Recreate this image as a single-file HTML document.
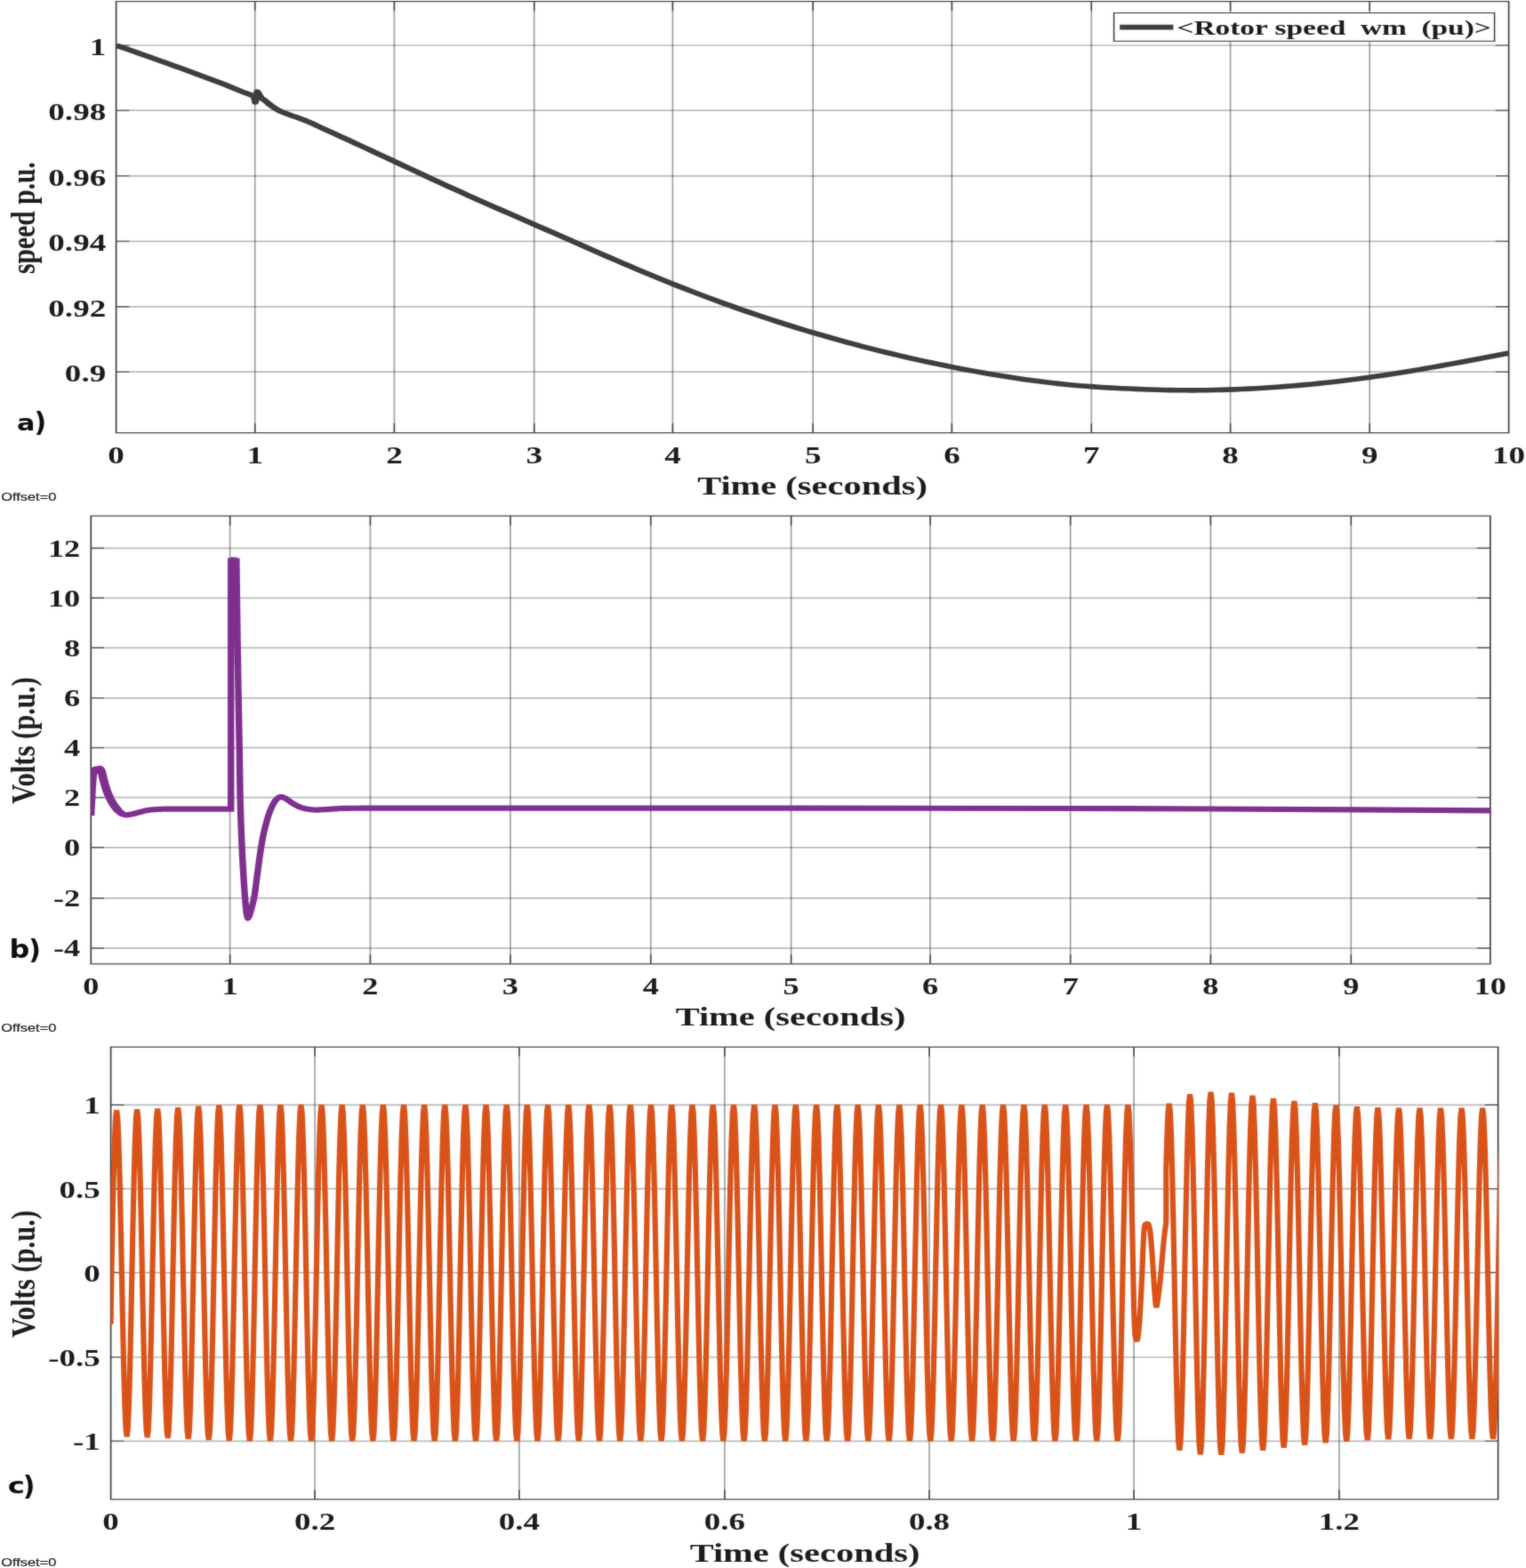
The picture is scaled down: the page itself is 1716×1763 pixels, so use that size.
<!DOCTYPE html>
<html lang="en"><head><meta charset="utf-8"><title>Rotor speed and voltage plots</title>
<style>html,body{margin:0;padding:0;background:#fff}body{width:1716px;height:1763px;overflow:hidden}svg{display:block}</style>
</head><body>
<svg width="1716" height="1763" viewBox="0 0 1716 1763" role="img" aria-label="Rotor speed and voltage versus time">
<defs><filter id="soft" x="0" y="0" width="1716" height="1763" filterUnits="userSpaceOnUse" color-interpolation-filters="sRGB"><feGaussianBlur stdDeviation="0.8" result="b"/><feComposite in="SourceGraphic" in2="b" operator="arithmetic" k1="0" k2="0.6" k3="0.4" k4="0"/></filter></defs>
<rect width="1716" height="1763" fill="#fff"/>
<g filter="url(#soft)">
<rect width="1716" height="1763" fill="#fff"/>
<g transform="scale(1.4 1)">
<path d="M204.79 1.6V486.65M316.71 1.6V486.65M429.07 1.6V486.65M540.29 1.6V486.65M653 1.6V486.65M764.57 1.6V486.65M876.64 1.6V486.65M988.29 1.6V486.65M1100.14 1.6V486.65" stroke="#000" stroke-opacity="0.38" stroke-width="1.2" fill="none"/>
<path d="M93.29 51H1211.86M93.29 124.2H1211.86M93.29 197.8H1211.86M93.29 271.3H1211.86M93.29 344.9H1211.86M93.29 418.2H1211.86" stroke="#000" stroke-opacity="0.27" stroke-width="1.7" fill="none"/>
<path d="M204.79 486.65v-10.6 M204.79 1.6v10.6M316.71 486.65v-10.6 M316.71 1.6v10.6M429.07 486.65v-10.6 M429.07 1.6v10.6M540.29 486.65v-10.6 M540.29 1.6v10.6M653 486.65v-10.6 M653 1.6v10.6M764.57 486.65v-10.6 M764.57 1.6v10.6M876.64 486.65v-10.6 M876.64 1.6v10.6M988.29 486.65v-10.6 M988.29 1.6v10.6M1100.14 486.65v-10.6 M1100.14 1.6v10.6M93.29 51h10.6 M1211.86 51h-10.6M93.29 124.2h10.6 M1211.86 124.2h-10.6M93.29 197.8h10.6 M1211.86 197.8h-10.6M93.29 271.3h10.6 M1211.86 271.3h-10.6M93.29 344.9h10.6 M1211.86 344.9h-10.6M93.29 418.2h10.6 M1211.86 418.2h-10.6" stroke="#484848" stroke-width="1.1" fill="none"/>
<rect x="93.29" y="1.6" width="1118.57" height="485.05" fill="none" stroke="#3c3c3c" stroke-width="1.2"/>
<clipPath id="ca"><rect x="93.14" y="1.6" width="1119.12" height="485.05"/></clipPath>
<path d="M93.29 51L99.03 53.77L104.78 56.56L110.53 59.37L116.28 62.2L122.03 65.05L127.77 67.91L133.52 70.79L139.27 73.69L145.02 76.6L150.77 79.52L156.52 82.45L162.26 85.41L168.01 88.4L173.76 91.43L179.51 94.51L185.26 97.76L191 101.12L196.75 104.36L202.5 107.3L203.79 108.2L204.64 111.5L205.07 114.9L205.86 107.5L206.64 103.2L207.43 104.3L208.57 107.6L210 110.5L211.43 111.61L212.86 113.1L214.29 114.77L215.71 116.47L217.14 118L218.57 119.41L220 120.82L221.43 122.17L222.86 123.39L224.29 124.45L225.71 125.36L227.14 126.18L228.57 126.95L230 127.68L231.43 128.42L232.86 129.18L234.29 129.92L235.71 130.64L237.14 131.35L238.57 132.06L240 132.77L241.43 133.49L242.86 134.22L244.29 134.99L245.71 135.78L247.14 136.61L248.57 137.46L250 138.33L251.43 139.23L252.86 140.14L254.29 141.08L255.71 142.03L257.14 143L262.79 146.59L268.44 150.19L274.09 153.81L279.74 157.44L285.39 161.09L291.04 164.74L296.69 168.41L302.34 172.08L307.99 175.76L313.64 179.45L319.29 183.13L324.94 186.82L330.59 190.51L336.24 194.19L341.89 197.87L347.54 201.53L353.19 205.17L358.84 208.8L364.49 212.4L370.14 215.98L375.78 219.54L381.43 223.06L387.08 226.57L392.73 230.05L398.38 233.53L404.03 236.99L409.68 240.44L415.33 243.89L420.98 247.35L426.63 250.8L432.28 254.27L437.93 257.75L443.58 261.23L449.23 264.72L454.88 268.2L460.53 271.69L466.18 275.17L471.83 278.64L477.48 282.11L483.13 285.56L488.78 289L494.43 292.42L500.08 295.82L505.73 299.2L511.38 302.55L517.03 305.87L522.67 309.16L528.32 312.42L533.97 315.65L539.62 318.83L545.27 321.97L550.92 325.07L556.57 328.13L562.22 331.15L567.87 334.13L573.52 337.06L579.17 339.95L584.82 342.81L590.47 345.62L596.12 348.39L601.77 351.12L607.42 353.8L613.07 356.45L618.72 359.06L624.37 361.62L630.02 364.15L635.67 366.64L641.32 369.08L646.97 371.49L652.62 373.85L658.27 376.18L663.92 378.46L669.57 380.71L675.21 382.91L680.86 385.08L686.51 387.21L692.16 389.3L697.81 391.34L703.46 393.35L709.11 395.32L714.76 397.25L720.41 399.15L726.06 401L731.71 402.81L737.36 404.59L743.01 406.33L748.66 408.02L754.31 409.68L759.96 411.3L765.61 412.89L771.26 414.43L776.91 415.94L782.56 417.4L788.21 418.82L793.86 420.2L799.51 421.54L805.16 422.83L810.81 424.07L816.46 425.26L822.1 426.41L827.75 427.5L833.4 428.55L839.05 429.54L844.7 430.47L850.35 431.36L856 432.18L861.65 432.95L867.3 433.66L872.95 434.31L878.6 434.9L884.25 435.43L889.9 435.9L895.55 436.33L901.2 436.72L906.85 437.07L912.5 437.4L918.15 437.71L923.8 437.99L929.45 438.24L935.1 438.45L940.75 438.62L946.4 438.75L952.05 438.82L957.7 438.83L963.35 438.79L968.99 438.69L974.64 438.55L980.29 438.35L985.94 438.11L991.59 437.83L997.24 437.5L1002.89 437.13L1008.54 436.72L1014.19 436.27L1019.84 435.77L1025.49 435.23L1031.14 434.65L1036.79 434.03L1042.44 433.36L1048.09 432.65L1053.74 431.91L1059.39 431.12L1065.04 430.29L1070.69 429.41L1076.34 428.5L1081.99 427.55L1087.64 426.55L1093.29 425.51L1098.94 424.44L1104.59 423.32L1110.24 422.16L1115.89 420.97L1121.53 419.74L1127.18 418.48L1132.83 417.18L1138.48 415.86L1144.13 414.51L1149.78 413.14L1155.43 411.75L1161.08 410.33L1166.73 408.89L1172.38 407.44L1178.03 405.98L1183.68 404.5L1189.33 403.01L1194.98 401.52L1200.63 400.01L1206.28 398.51L1211.93 397" fill="none" stroke="#3d3d3d" stroke-width="5.6" stroke-linejoin="round" clip-path="url(#ca)"/>
<rect x="894.71" y="14.5" width="305.71" height="31.8" fill="#fff" stroke="#3c3c3c" stroke-width="1.1"/>
<path d="M899.43 30.6H942.43" stroke="#3d3d3d" stroke-width="5.8"/>
<path d="M184.71 580.1V1083.8M297.43 580.1V1083.8M409.93 580.1V1083.8M522.71 580.1V1083.8M635.46 580.1V1083.8M747.14 580.1V1083.8M859.79 580.1V1083.8M972.43 580.1V1083.8M1085.21 580.1V1083.8" stroke="#000" stroke-opacity="0.38" stroke-width="1.2" fill="none"/>
<path d="M73.07 616.4H1197M73.07 672.4H1197M73.07 728.4H1197M73.07 784.8H1197M73.07 840.7H1197M73.07 896.7H1197M73.07 952.9H1197M73.07 1009.9H1197M73.07 1066.1H1197" stroke="#000" stroke-opacity="0.27" stroke-width="1.7" fill="none"/>
<path d="M184.71 1083.8v-10.6 M184.71 580.1v10.6M297.43 1083.8v-10.6 M297.43 580.1v10.6M409.93 1083.8v-10.6 M409.93 580.1v10.6M522.71 1083.8v-10.6 M522.71 580.1v10.6M635.46 1083.8v-10.6 M635.46 580.1v10.6M747.14 1083.8v-10.6 M747.14 580.1v10.6M859.79 1083.8v-10.6 M859.79 580.1v10.6M972.43 1083.8v-10.6 M972.43 580.1v10.6M1085.21 1083.8v-10.6 M1085.21 580.1v10.6M73.07 616.4h10.6 M1197 616.4h-10.6M73.07 672.4h10.6 M1197 672.4h-10.6M73.07 728.4h10.6 M1197 728.4h-10.6M73.07 784.8h10.6 M1197 784.8h-10.6M73.07 840.7h10.6 M1197 840.7h-10.6M73.07 896.7h10.6 M1197 896.7h-10.6M73.07 952.9h10.6 M1197 952.9h-10.6M73.07 1009.9h10.6 M1197 1009.9h-10.6M73.07 1066.1h10.6 M1197 1066.1h-10.6" stroke="#484848" stroke-width="1.1" fill="none"/>
<rect x="73.07" y="580.1" width="1123.93" height="503.7" fill="none" stroke="#3c3c3c" stroke-width="1.2"/>
<clipPath id="cb"><rect x="72.92" y="580.1" width="1124.48" height="503.7"/></clipPath>
</g><g transform="scale(1.19 1)">
<clipPath id="cb2"><rect x="85.8" y="580.1" width="1322.94" height="503.7"/></clipPath>
<g clip-path="url(#cb2)" fill="none" stroke="#7e2f8e">
<path d="M86.22 917L86.8 903.85L87.38 890.69L87.96 879.6L88.55 871.65L89.13 867.53L89.71 865.06L90.29 864.7L90.87 864.62L91.46 864.68L92.04 865.46L92.62 866L93.2 865.68L93.78 865.11L94.36 864.8L94.95 865.29L95.53 866.49L96.11 868.03L96.69 870.65L97.27 873.9L97.86 876.74L98.44 879.24L99.02 881.67L99.6 884.01L100.18 886.25L100.77 888.37L101.35 890.34L101.93 892.14L102.51 893.82L103.09 895.41L103.67 896.91L104.26 898.33L104.84 899.67L105.42 900.94L106 902.14L106.58 903.27L107.17 904.35L107.75 905.37L108.33 906.35L108.91 907.27L109.49 908.15L110.08 908.99L110.66 909.81L111.24 910.63L111.82 911.42L112.4 912.16L112.98 912.84L113.57 913.43L114.15 913.92L114.73 914.37L115.31 914.81L115.89 915.22L116.48 915.6L117.06 915.91L117.64 916.14L118.22 916.28L118.8 916.3L119.39 916.28L119.97 916.23L120.55 916.17L121.13 916.09L121.71 916L122.3 915.89L122.88 915.79L123.46 915.67L124.04 915.56L124.62 915.45L125.2 915.32L125.79 915.18L126.37 915.01L126.95 914.84L127.53 914.65L128.11 914.46L128.7 914.25L129.28 914.05L129.86 913.84L130.44 913.64L131.02 913.43L131.61 913.24L132.19 913.05L132.77 912.88L133.35 912.7L133.93 912.52L134.51 912.34L135.1 912.15L135.68 911.97L136.26 911.79L136.84 911.62L137.42 911.46L138.01 911.31L138.59 911.18L139.17 911.06L139.75 910.96L140.33 910.86L140.92 910.77L141.5 910.69L142.08 910.61L142.66 910.53L143.24 910.46L143.82 910.4L144.41 910.34L144.99 910.28L145.57 910.23L146.15 910.19L146.73 910.14L147.32 910.1L147.9 910.06L148.48 910.02L149.06 909.98L149.64 909.94L150.23 909.9L150.81 909.87L151.39 909.84L151.97 909.81L152.55 909.78L153.13 909.76L153.72 909.74L154.3 909.72L154.88 909.71L155.46 909.7L172.27 909.6L218.24 909.6L218.24 630.6L219.83 630.6L220.08 629.5L221.34 629.5L221.6 630.6L223.45 630.6L223.53 638.69L223.61 646.7L223.69 654.64L223.77 662.49L223.86 670.26L223.94 677.95L224.03 685.56L224.12 693.08L224.21 700.51L224.3 707.74L224.38 714.75L224.47 721.61L224.56 728.4L224.65 735.2L224.75 742.09L224.85 749.15L224.95 756.45L225.06 764.08L225.18 772.2L225.31 780.78L225.44 789.68L225.58 798.75L225.73 807.84L225.87 816.81L226 825.52L226.13 833.81L226.24 841.56L226.34 848.92L226.43 856.05L226.52 862.96L226.6 869.69L226.69 876.28L226.77 882.74L226.87 889.12L226.97 895.44L227.09 901.73L227.23 908L227.39 914.22L227.56 920.36L227.74 926.42L227.93 932.37L228.12 938.18L228.32 943.83L228.52 949.31L228.73 954.62L228.94 959.96L229.18 965.32L229.42 970.62L229.66 975.76L229.91 980.68L230.14 985.26L230.36 989.44L230.57 993.11L230.74 996.24L230.91 999.06L231.06 1001.68L231.2 1004.1L231.34 1006.36L231.47 1008.46L231.6 1010.44L231.73 1012.31L231.86 1014.1L232 1015.83L232.13 1017.54L232.27 1019.21L232.4 1020.82L232.53 1022.34L232.66 1023.76L232.79 1025.05L232.92 1026.18L233.05 1027.14L233.18 1027.92L233.31 1028.69L233.44 1029.43L233.57 1030.12L233.7 1030.76L233.83 1031.3L233.96 1031.73L234.1 1032.04L234.23 1032.19L234.37 1032.18L234.51 1032.07L234.66 1031.88L234.8 1031.61L234.95 1031.28L235.1 1030.91L235.25 1030.5L235.41 1030.07L235.58 1029.64L235.75 1029.18L235.92 1028.63L236.1 1028L236.28 1027.28L236.47 1026.5L236.67 1025.64L236.88 1024.73L237.1 1023.77L237.34 1022.75L237.59 1021.67L237.87 1020.47L238.17 1019.15L238.49 1017.71L238.83 1016.16L239.17 1014.49L239.52 1012.72L239.86 1010.84L240.2 1008.85L240.52 1006.68L240.85 1004.18L241.18 1001.41L241.52 998.42L241.85 995.28L242.19 992.04L242.53 988.76L242.88 985.51L243.24 982.32L243.61 979.1L244 975.68L244.4 972.12L244.81 968.52L245.22 964.97L245.62 961.54L246.01 958.33L246.37 955.41L246.71 952.88L247.02 950.66L247.31 948.6L247.59 946.67L247.86 944.87L248.12 943.16L248.38 941.53L248.64 939.97L248.9 938.45L249.17 936.95L249.44 935.49L249.71 934.1L249.99 932.76L250.26 931.47L250.53 930.21L250.81 928.98L251.08 927.77L251.35 926.57L251.62 925.38L251.9 924.18L252.17 922.99L252.44 921.81L252.71 920.65L252.98 919.51L253.26 918.41L253.53 917.34L253.8 916.31L254.08 915.34L254.35 914.41L254.62 913.53L254.89 912.69L255.15 911.87L255.43 911.06L255.71 910.26L256 909.46L256.31 908.64L256.64 907.79L257 906.89L257.39 905.94L257.81 904.96L258.24 903.99L258.67 903.05L259.1 902.17L259.52 901.38L259.91 900.69L260.28 900.14L260.63 899.64L260.96 899.17L261.29 898.73L261.61 898.32L261.93 897.96L262.23 897.63L262.54 897.35L262.84 897.12L263.14 896.93L263.42 896.77L263.7 896.6L263.97 896.45L264.24 896.32L264.51 896.2L264.78 896.11L265.07 896.04L265.37 896.01L265.69 896L266 896.04L266.32 896.11L266.64 896.21L266.98 896.34L267.34 896.5L267.74 896.68L268.17 896.88L268.65 897.09L269.21 897.35L269.94 897.83L270.81 898.5L271.8 899.31L272.85 900.2L273.93 901.12L275 902.03L276.03 902.86L276.96 903.56L277.78 904.11L278.56 904.63L279.31 905.12L280.03 905.59L280.74 906.03L281.44 906.44L282.13 906.82L282.83 907.18L283.53 907.5L284.25 907.79L284.94 908.07L285.63 908.33L286.31 908.57L286.99 908.8L287.69 909.02L288.41 909.21L289.16 909.4L289.94 909.56L290.77 909.71L291.61 909.87L292.49 910.02L293.39 910.17L294.33 910.3L295.31 910.42L296.32 910.51L297.39 910.57L298.5 910.6L299.68 910.59L300.94 910.54L302.28 910.47L303.69 910.38L305.15 910.27L306.66 910.16L308.21 910.04L309.78 909.92L311.38 909.81L312.98 909.71L314.6 909.58L316.25 909.44L317.94 909.3L319.7 909.16L321.52 909.03L323.43 908.92L325.45 908.85L327.58 908.8L329.85 908.78L332.28 908.76L334.86 908.75L337.57 908.73L340.42 908.72L343.39 908.71L346.47 908.71L349.66 908.7L352.94 908.7L504.2 908.6L756.3 908.6L1008.4 909L1143.7 909.5L1277.31 910.4L1409.24 911.4" stroke-width="6.2" stroke-linejoin="miter" stroke-miterlimit="3"/>
<path d="M91.18 864.6L91.6 864.82L92.02 865.43L92.44 865.94L92.86 865.93L93.28 865.61L93.7 865.19L94.12 864.87L94.54 864.85L94.96 865.31L95.38 866.14L95.8 867.17L96.22 868.42L96.64 870.36L97.06 872.69L97.48 875L97.9 876.93L98.32 878.73L98.74 880.51L99.16 882.24L99.58 883.93L100 885.56L100.42 887.13L100.84 888.63L101.26 890.05L101.68 891.39L102.1 892.64L102.52 893.85L102.94 895L103.36 896.11L103.78 897.17L104.2 898.19L104.62 899.18L105.04 900.12L105.46 901.02L105.88 901.89L106.3 902.73L106.72 903.54L107.14 904.31L107.56 905.05L107.98 905.77L108.4 906.47L108.82 907.13L109.24 907.78L109.66 908.4L110.08 909L110.5 909.59L110.92 910.19L111.34 910.77L111.76 911.34L112.18 911.89L112.61 912.4L113.03 912.88L113.45 913.32L113.87 913.7L114.29 914.03L114.71 914.35L115.13 914.67L115.55 914.98L115.97 915.27" stroke-width="7.2" stroke-linejoin="round"/>
<path d="M92.86 865.93L93.34 865.55L93.83 865.07L94.31 864.8L94.8 865.08L95.28 865.92L95.77 867.09L96.25 868.54L96.74 870.88L97.22 873.6L97.71 876.09L98.19 878.18L98.67 880.24L99.16 882.24L99.64 884.18L100.13 886.05L100.61 887.83L101.1 889.51L101.58 891.09L102.07 892.55L102.55 893.94L103.04 895.26L103.52 896.52L104.01 897.73L104.49 898.88L104.98 899.98L105.46 901.02L105.95 902.03L106.43 902.98L106.92 903.9L107.4 904.77L107.89 905.61L108.37 906.41L108.86 907.18L109.34 907.92L109.83 908.63L110.31 909.32L110.8 910L111.28 910.68L111.76 911.34" stroke-width="8.0" stroke-linejoin="round"/>
</g>
</g><g transform="scale(1.4 1)">
<path d="M252.93 1177.25V1685.8M417 1177.25V1685.8M582.07 1177.25V1685.8M746.43 1177.25V1685.8M910.79 1177.25V1685.8M1075.64 1177.25V1685.8" stroke="#000" stroke-opacity="0.38" stroke-width="1.2" fill="none"/>
<path d="M89 1242.4H1203.29M89 1336.7H1203.29M89 1430.8H1203.29M89 1526H1203.29M89 1620.3H1203.29" stroke="#000" stroke-opacity="0.27" stroke-width="1.7" fill="none"/>
<path d="M252.93 1685.8v-10.6 M252.93 1177.25v10.6M417 1685.8v-10.6 M417 1177.25v10.6M582.07 1685.8v-10.6 M582.07 1177.25v10.6M746.43 1685.8v-10.6 M746.43 1177.25v10.6M910.79 1685.8v-10.6 M910.79 1177.25v10.6M1075.64 1685.8v-10.6 M1075.64 1177.25v10.6M89 1242.4h10.6 M1203.29 1242.4h-10.6M89 1336.7h10.6 M1203.29 1336.7h-10.6M89 1430.8h10.6 M1203.29 1430.8h-10.6M89 1526h10.6 M1203.29 1526h-10.6M89 1620.3h10.6 M1203.29 1620.3h-10.6" stroke="#484848" stroke-width="1.1" fill="none"/>
<rect x="89" y="1177.25" width="1114.29" height="508.55" fill="none" stroke="#3c3c3c" stroke-width="1.2"/>
<clipPath id="cc"><rect x="88.85" y="1177.25" width="1114.79" height="508.55"/></clipPath>
<path d="M89 1489.02L89.57 1431L90.39 1374.51L91.21 1323.52L92.04 1283.04L92.86 1257.03L93.68 1248.05L94.5 1256.97L95.32 1282.93L96.14 1323.4L96.96 1374.42L97.79 1431L98.61 1487.96L99.43 1539.36L100.25 1580.18L101.07 1606.4L101.89 1615.46L102.72 1606.47L103.54 1580.29L104.36 1539.49L105.18 1488.05L106 1431L106.82 1374.26L107.65 1323.05L108.47 1282.38L109.29 1256.24L110.11 1247.2L110.93 1256.15L111.75 1282.23L112.58 1322.89L113.4 1374.15L114.22 1431L115.04 1488.19L115.86 1539.8L116.68 1580.78L117.51 1607.12L118.33 1616.22L119.15 1607.2L119.97 1580.92L120.79 1539.95L121.62 1488.29L122.44 1431L123.26 1374L124.08 1322.55L124.9 1281.69L125.73 1255.43L126.55 1246.35L127.37 1255.34L128.19 1281.53L129.01 1322.37L129.84 1373.87L130.66 1431L131.48 1488.47L132.3 1540.34L133.12 1581.53L133.95 1608.01L134.77 1617.16L135.59 1608.1L136.41 1581.69L137.24 1540.51L138.06 1488.59L138.88 1431L139.7 1373.64L140.52 1321.85L141.35 1280.71L142.17 1254.26L142.99 1245.1L143.81 1254.13L144.64 1280.49L145.46 1321.61L146.28 1373.47L147.1 1431L147.93 1488.76L148.75 1540.9L149.57 1582.3L150.39 1608.91L151.22 1618.11L152.04 1609L152.86 1582.45L153.68 1541.06L154.51 1488.88L155.33 1431L156.15 1373.21L156.97 1321.03L157.8 1279.58L158.62 1252.93L159.44 1243.7L160.26 1252.8L161.09 1279.36L161.91 1320.79L162.73 1373.04L163.56 1431L164.38 1489.06L165.2 1541.46L166.02 1583.07L166.85 1609.81L167.67 1619.06L168.49 1609.89L169.31 1583.21L170.14 1541.61L170.96 1489.16L171.78 1431L172.61 1372.8L173.43 1320.26L174.25 1278.54L175.07 1251.73L175.9 1242.47L176.72 1251.67L177.54 1278.42L178.37 1320.13L179.19 1372.7L180.01 1431L180.84 1489.31L181.66 1541.93L182.48 1583.71L183.3 1610.54L184.13 1619.81L184.95 1610.59L185.77 1583.79L186.6 1542.03L187.42 1489.38L188.24 1431L189.07 1372.6L189.89 1319.92L190.71 1278.1L191.54 1251.25L192.36 1242L193.18 1251.25L194.01 1278.1L194.83 1319.91L195.65 1372.6L196.48 1431L197.3 1489.46L198.12 1542.19L198.95 1584.05L199.77 1610.93L200.59 1620.19L201.42 1610.93L202.24 1584.06L203.06 1542.2L203.89 1489.46L204.71 1431L205.53 1372.6L206.36 1319.91L207.18 1278.1L208 1251.25L208.83 1242L209.65 1251.25L210.48 1278.1L211.3 1319.91L212.12 1372.6L212.95 1431L213.77 1489.46L214.59 1542.2L215.42 1584.06L216.24 1610.93L217.06 1620.19L217.89 1610.93L218.71 1584.06L219.54 1542.2L220.36 1489.46L221.18 1431L222.01 1372.6L222.83 1319.91L223.65 1278.1L224.48 1251.25L225.3 1242L226.13 1251.25L226.95 1278.1L227.77 1319.91L228.6 1372.6L229.42 1431L230.25 1489.46L231.07 1542.2L231.89 1584.06L232.72 1610.93L233.54 1620.19L234.37 1610.93L235.19 1584.06L236.01 1542.2L236.84 1489.46L237.66 1431L238.49 1372.6L239.31 1319.91L240.13 1278.1L240.96 1251.25L241.78 1242L242.61 1251.25L243.43 1278.1L244.26 1319.91L245.08 1372.6L245.9 1431L246.73 1489.46L247.55 1542.2L248.38 1584.06L249.2 1610.93L250.03 1620.19L250.85 1610.93L251.67 1584.06L252.5 1542.2L253.32 1489.46L254.15 1431L254.97 1372.6L255.8 1319.91L256.62 1278.1L257.44 1251.25L258.27 1242L259.09 1251.25L259.92 1278.1L260.74 1319.91L261.57 1372.6L262.39 1431L263.22 1489.46L264.04 1542.2L264.87 1584.06L265.69 1610.93L266.51 1620.19L267.34 1610.93L268.16 1584.06L268.99 1542.2L269.81 1489.46L270.64 1431L271.46 1372.6L272.29 1319.91L273.11 1278.1L273.94 1251.25L274.76 1242L275.59 1251.25L276.41 1278.1L277.24 1319.91L278.06 1372.6L278.89 1431L279.71 1489.46L280.54 1542.2L281.36 1584.06L282.19 1610.93L283.01 1620.19L283.84 1610.93L284.66 1584.06L285.49 1542.2L286.31 1489.46L287.14 1431L287.96 1372.6L288.79 1319.91L289.61 1278.1L290.44 1251.25L291.26 1242L292.09 1251.25L292.91 1278.1L293.74 1319.91L294.56 1372.6L295.39 1431L296.21 1489.46L297.04 1542.2L297.86 1584.06L298.69 1610.93L299.51 1620.19L300.34 1610.93L301.16 1584.06L301.99 1542.2L302.81 1489.46L303.64 1431L304.46 1372.6L305.29 1319.91L306.11 1278.1L306.94 1251.25L307.77 1242L308.59 1251.25L309.42 1278.1L310.24 1319.91L311.07 1372.6L311.89 1431L312.72 1489.46L313.54 1542.2L314.37 1584.06L315.19 1610.93L316.02 1620.19L316.85 1610.93L317.67 1584.06L318.5 1542.2L319.32 1489.46L320.15 1431L320.97 1372.6L321.8 1319.91L322.63 1278.1L323.45 1251.25L324.28 1242L325.1 1251.25L325.93 1278.1L326.75 1319.91L327.58 1372.6L328.41 1431L329.23 1489.46L330.06 1542.2L330.88 1584.06L331.71 1610.93L332.53 1620.19L333.36 1610.93L334.19 1584.06L335.01 1542.2L335.84 1489.46L336.66 1431L337.49 1372.6L338.32 1319.91L339.14 1278.1L339.97 1251.25L340.79 1242L341.62 1251.25L342.45 1278.1L343.27 1319.91L344.1 1372.6L344.92 1431L345.75 1489.46L346.58 1542.2L347.4 1584.06L348.23 1610.93L349.05 1620.19L349.88 1610.93L350.71 1584.06L351.53 1542.2L352.36 1489.46L353.19 1431L354.01 1372.6L354.84 1319.91L355.66 1278.1L356.49 1251.25L357.32 1242L358.14 1251.25L358.97 1278.1L359.8 1319.91L360.62 1372.6L361.45 1431L362.27 1489.46L363.1 1542.2L363.93 1584.06L364.75 1610.93L365.58 1620.19L366.41 1610.93L367.23 1584.06L368.06 1542.2L368.89 1489.46L369.71 1431L370.54 1372.6L371.37 1319.91L372.19 1278.1L373.02 1251.25L373.85 1242L374.67 1251.25L375.5 1278.1L376.33 1319.91L377.15 1372.6L377.98 1431L378.81 1489.46L379.63 1542.2L380.46 1584.06L381.29 1610.93L382.11 1620.19L382.94 1610.93L383.77 1584.06L384.59 1542.2L385.42 1489.46L386.25 1431L387.07 1372.6L387.9 1319.91L388.73 1278.1L389.55 1251.25L390.38 1242L391.21 1251.25L392.03 1278.1L392.86 1319.91L393.69 1372.6L394.52 1431L395.34 1489.46L396.17 1542.2L397 1584.06L397.82 1610.93L398.65 1620.19L399.48 1610.93L400.31 1584.06L401.13 1542.2L401.96 1489.46L402.79 1431L403.61 1372.6L404.44 1319.91L405.27 1278.1L406.1 1251.25L406.92 1242L407.75 1251.25L408.58 1278.1L409.4 1319.91L410.23 1372.6L411.06 1431L411.89 1489.46L412.71 1542.2L413.54 1584.06L414.37 1610.93L415.2 1620.19L416.02 1610.93L416.85 1584.06L417.68 1542.2L418.51 1489.46L419.33 1431L420.16 1372.6L420.99 1319.91L421.81 1278.1L422.64 1251.25L423.47 1242L424.3 1251.25L425.13 1278.1L425.95 1319.91L426.78 1372.6L427.61 1431L428.44 1489.46L429.26 1542.2L430.09 1584.06L430.92 1610.93L431.75 1620.19L432.57 1610.93L433.4 1584.06L434.23 1542.2L435.06 1489.46L435.88 1431L436.71 1372.6L437.54 1319.91L438.37 1278.1L439.2 1251.25L440.02 1242L440.85 1251.25L441.68 1278.1L442.51 1319.91L443.34 1372.6L444.16 1431L444.99 1489.46L445.82 1542.2L446.65 1584.06L447.47 1610.93L448.3 1620.19L449.13 1610.93L449.96 1584.06L450.79 1542.2L451.61 1489.46L452.44 1431L453.27 1372.6L454.1 1319.91L454.93 1278.1L455.76 1251.25L456.58 1242L457.41 1251.25L458.24 1278.1L459.07 1319.91L459.9 1372.6L460.72 1431L461.55 1489.46L462.38 1542.2L463.21 1584.06L464.04 1610.93L464.87 1620.19L465.69 1610.93L466.52 1584.06L467.35 1542.2L468.18 1489.46L469.01 1431L469.84 1372.6L470.66 1319.91L471.49 1278.1L472.32 1251.25L473.15 1242L473.98 1251.25L474.81 1278.1L475.63 1319.91L476.46 1372.6L477.29 1431L478.12 1489.46L478.95 1542.2L479.78 1584.06L480.61 1610.93L481.43 1620.19L482.26 1610.93L483.09 1584.06L483.92 1542.2L484.75 1489.46L485.58 1431L486.41 1372.6L487.23 1319.91L488.06 1278.1L488.89 1251.25L489.72 1242L490.55 1251.25L491.38 1278.1L492.21 1319.91L493.04 1372.6L493.87 1431L494.69 1489.46L495.52 1542.2L496.35 1584.06L497.18 1610.93L498.01 1620.19L498.84 1610.93L499.67 1584.06L500.5 1542.2L501.33 1489.46L502.15 1431L502.98 1372.6L503.81 1319.91L504.64 1278.1L505.47 1251.25L506.3 1242L507.13 1251.25L507.96 1278.1L508.79 1319.91L509.62 1372.6L510.44 1431L511.27 1489.46L512.1 1542.2L512.93 1584.06L513.76 1610.93L514.59 1620.19L515.42 1610.93L516.25 1584.06L517.08 1542.2L517.91 1489.46L518.74 1431L519.57 1372.6L520.4 1319.91L521.22 1278.1L522.05 1251.25L522.88 1242L523.71 1251.25L524.54 1278.1L525.37 1319.91L526.2 1372.6L527.03 1431L527.86 1489.46L528.69 1542.2L529.52 1584.06L530.35 1610.93L531.18 1620.19L532.01 1610.93L532.84 1584.06L533.67 1542.2L534.5 1489.46L535.33 1431L536.15 1372.6L536.98 1319.91L537.81 1278.1L538.64 1251.25L539.47 1242L540.3 1251.25L541.13 1278.1L541.96 1319.91L542.79 1372.6L543.62 1431L544.45 1489.46L545.28 1542.2L546.11 1584.06L546.94 1610.93L547.77 1620.19L548.6 1610.93L549.43 1584.06L550.26 1542.2L551.09 1489.46L551.92 1431L552.75 1372.6L553.58 1319.91L554.41 1278.1L555.24 1251.25L556.07 1242L556.9 1251.25L557.73 1278.1L558.56 1319.91L559.39 1372.6L560.22 1431L561.05 1489.46L561.88 1542.2L562.71 1584.06L563.54 1610.93L564.37 1620.19L565.2 1610.93L566.03 1584.06L566.86 1542.2L567.69 1489.46L568.52 1431L569.35 1372.6L570.18 1319.91L571.01 1278.1L571.84 1251.25L572.67 1242L573.5 1251.25L574.33 1278.1L575.16 1319.91L575.99 1372.6L576.82 1431L577.65 1489.46L578.48 1542.2L579.31 1584.06L580.15 1610.93L580.98 1620.19L581.81 1610.93L582.64 1584.06L583.47 1542.2L584.3 1489.46L585.13 1431L585.96 1372.6L586.79 1319.91L587.62 1278.1L588.45 1251.25L589.28 1242L590.11 1251.25L590.94 1278.1L591.77 1319.91L592.6 1372.6L593.43 1431L594.26 1489.46L595.1 1542.2L595.93 1584.06L596.76 1610.93L597.59 1620.19L598.42 1610.93L599.25 1584.06L600.08 1542.2L600.91 1489.46L601.74 1431L602.57 1372.6L603.4 1319.91L604.23 1278.1L605.06 1251.25L605.9 1242L606.73 1251.25L607.56 1278.1L608.39 1319.91L609.22 1372.6L610.05 1431L610.88 1489.46L611.71 1542.2L612.54 1584.06L613.37 1610.93L614.2 1620.19L615.04 1610.93L615.87 1584.06L616.7 1542.2L617.53 1489.46L618.36 1431L619.19 1372.6L620.02 1319.91L620.85 1278.1L621.68 1251.25L622.52 1242L623.35 1251.25L624.18 1278.1L625.01 1319.91L625.84 1372.6L626.67 1431L627.5 1489.46L628.33 1542.2L629.17 1584.06L630 1610.93L630.83 1620.19L631.66 1610.93L632.49 1584.06L633.32 1542.2L634.15 1489.46L634.99 1431L635.82 1372.6L636.65 1319.91L637.48 1278.1L638.31 1251.25L639.14 1242L639.97 1251.25L640.81 1278.1L641.64 1319.91L642.47 1372.6L643.3 1431L644.13 1489.46L644.96 1542.2L645.8 1584.06L646.63 1610.93L647.46 1620.19L648.29 1610.93L649.12 1584.06L649.95 1542.2L650.79 1489.46L651.62 1431L652.45 1372.6L653.28 1319.91L654.11 1278.1L654.94 1251.25L655.78 1242L656.61 1251.25L657.44 1278.1L658.27 1319.91L659.1 1372.6L659.93 1431L660.77 1489.46L661.6 1542.2L662.43 1584.06L663.26 1610.93L664.09 1620.19L664.93 1610.93L665.76 1584.06L666.59 1542.2L667.42 1489.46L668.25 1431L669.09 1372.6L669.92 1319.91L670.75 1278.1L671.58 1251.25L672.41 1242L673.25 1251.25L674.08 1278.1L674.91 1319.91L675.74 1372.6L676.58 1431L677.41 1489.46L678.24 1542.2L679.07 1584.06L679.9 1610.93L680.74 1620.19L681.57 1610.93L682.4 1584.06L683.23 1542.2L684.07 1489.46L684.9 1431L685.73 1372.6L686.56 1319.91L687.4 1278.1L688.23 1251.25L689.06 1242L689.89 1251.25L690.72 1278.1L691.56 1319.91L692.39 1372.6L693.22 1431L694.05 1489.46L694.89 1542.2L695.72 1584.06L696.55 1610.93L697.38 1620.19L698.22 1610.93L699.05 1584.06L699.88 1542.2L700.72 1489.46L701.55 1431L702.38 1372.6L703.21 1319.91L704.05 1278.1L704.88 1251.25L705.71 1242L706.54 1251.25L707.38 1278.1L708.21 1319.91L709.04 1372.6L709.87 1431L710.71 1489.46L711.54 1542.2L712.37 1584.06L713.21 1610.93L714.04 1620.19L714.87 1610.93L715.7 1584.06L716.54 1542.2L717.37 1489.46L718.2 1431L719.04 1372.6L719.87 1319.91L720.7 1278.1L721.54 1251.25L722.37 1242L723.2 1251.25L724.03 1278.1L724.87 1319.91L725.7 1372.6L726.53 1431L727.37 1489.46L728.2 1542.2L729.03 1584.06L729.87 1610.93L730.7 1620.19L731.53 1610.93L732.37 1584.06L733.2 1542.2L734.03 1489.46L734.87 1431L735.7 1372.6L736.53 1319.91L737.37 1278.1L738.2 1251.25L739.03 1242L739.87 1251.25L740.7 1278.1L741.53 1319.91L742.37 1372.6L743.2 1431L744.03 1489.46L744.87 1542.2L745.7 1584.06L746.53 1610.93L747.37 1620.19L748.2 1610.93L749.03 1584.06L749.87 1542.2L750.7 1489.46L751.53 1431L752.37 1372.6L753.2 1319.91L754.03 1278.1L754.87 1251.25L755.7 1242L756.54 1251.25L757.37 1278.1L758.2 1319.91L759.04 1372.6L759.87 1431L760.7 1489.46L761.54 1542.2L762.37 1584.06L763.2 1610.93L764.04 1620.19L764.87 1610.93L765.71 1584.06L766.54 1542.2L767.37 1489.46L768.21 1431L769.04 1372.6L769.88 1319.91L770.71 1278.1L771.54 1251.25L772.38 1242L773.21 1251.25L774.04 1278.1L774.88 1319.91L775.71 1372.6L776.55 1431L777.38 1489.46L778.21 1542.2L779.05 1584.06L779.88 1610.93L780.72 1620.19L781.55 1610.93L782.39 1584.06L783.22 1542.2L784.05 1489.46L784.89 1431L785.72 1372.6L786.56 1319.91L787.39 1278.1L788.22 1251.25L789.06 1242L789.89 1251.25L790.73 1278.1L791.56 1319.91L792.4 1372.6L793.23 1431L794.06 1489.46L794.9 1542.2L795.73 1584.06L796.57 1610.93L797.4 1620.19L798.24 1610.93L799.07 1584.06L799.91 1542.2L800.74 1489.46L801.57 1431L802.41 1372.6L803.24 1319.91L804.08 1278.1L804.91 1251.25L805.75 1242L806.58 1251.25L807.42 1278.1L808.25 1319.91L809.08 1372.6L809.92 1431L810.75 1489.46L811.59 1542.2L812.42 1584.06L813.26 1610.93L814.09 1620.19L814.93 1610.93L815.76 1584.06L816.6 1542.2L817.43 1489.46L818.27 1431L819.1 1372.6L819.94 1319.91L820.77 1278.1L821.61 1251.25L822.44 1242L823.28 1251.25L824.11 1278.1L824.95 1319.91L825.78 1372.6L826.61 1431L827.45 1489.46L828.28 1542.2L829.12 1584.06L829.95 1610.93L830.79 1620.19L831.62 1610.93L832.46 1584.06L833.29 1542.2L834.13 1489.46L834.96 1431L835.8 1372.6L836.64 1319.91L837.47 1278.1L838.31 1251.25L839.14 1242L839.98 1251.25L840.81 1278.1L841.65 1319.91L842.48 1372.6L843.32 1431L844.15 1489.46L844.99 1542.2L845.82 1584.06L846.66 1610.93L847.49 1620.19L848.33 1610.93L849.16 1584.06L850 1542.2L850.83 1489.46L851.67 1431L852.5 1372.6L853.34 1319.91L854.18 1278.1L855.01 1251.25L855.85 1242L856.68 1251.25L857.52 1278.1L858.35 1319.91L859.19 1372.6L860.02 1431L860.86 1489.46L861.7 1542.2L862.53 1584.06L863.37 1610.93L864.2 1620.19L865.04 1610.93L865.87 1584.06L866.71 1542.2L867.54 1489.46L868.38 1431L869.22 1372.6L870.05 1319.91L870.89 1278.1L871.72 1251.25L872.56 1242L873.39 1251.25L874.23 1278.1L875.07 1319.91L875.9 1372.6L876.74 1431L877.57 1489.46L878.41 1542.2L879.25 1584.06L880.08 1610.93L880.92 1620.19L881.75 1610.93L882.59 1584.06L883.43 1542.2L884.26 1489.46L885.1 1431L885.93 1372.6L886.77 1319.91L887.61 1278.1L888.44 1251.25L889.28 1242L890.11 1251.25L890.95 1278.1L891.79 1319.91L892.62 1372.6L893.46 1431L894.29 1489.46L895.13 1542.2L895.97 1584.06L896.8 1610.93L897.64 1620.19L898.47 1610.93L899.31 1584.06L900.15 1542.2L900.98 1489.46L901.82 1431L902.66 1372.6L903.49 1319.91L904.33 1278.1L905.17 1251.25L906 1242L906.84 1251.25L907.67 1278.1L908.51 1319.91L909.35 1372.6L910.18 1431L910.71 1468.45L910.71 1468.45L911.21 1488.21L911.71 1501.23L912.21 1505.1L912.71 1507.31L913.21 1508.11L913.71 1506.03L914.21 1501.31L914.71 1495.42L915.21 1486.72L915.71 1476.36L916.21 1464.44L916.71 1450.53L917.21 1435.42L917.71 1418.57L918.21 1400.96L918.71 1386.95L919.21 1379.85L919.71 1376.52L920.21 1375.69L920.71 1375.47L921.21 1375.33L921.71 1375.26L922.21 1375.43L922.71 1377.01L923.21 1379.57L923.71 1383.58L924.21 1389.94L924.71 1397.27L925.21 1406.25L925.71 1416.47L926.21 1426.8L926.71 1437.96L927.21 1449.03L927.71 1457.92L928.21 1466.14L928.71 1470.12L929.21 1468.15L929.71 1463.84L930.21 1459.31L930.71 1454.14L931.21 1448.2L931.71 1441.73L932.21 1434.94L932.71 1427.91L933.21 1419.9L933.71 1411.4L934.21 1403.2L934.71 1396.04L935.21 1389.7L935.71 1383.82L936.21 1378.45L936.64 1374.3L936.64 1314.41L937.37 1278.58L938.2 1250.89L939.04 1240.68L939.88 1249.09L940.71 1275.47L941.55 1317.43L942.39 1371L943.23 1431L944.06 1492.3L944.9 1547.85L945.74 1592.15L946.57 1620.8L947.41 1630.91L948.25 1621.43L949.09 1593.26L949.92 1549.08L950.76 1493.18L951.6 1431L952.43 1369.21L953.27 1313.36L954.11 1268.94L954.95 1240.3L955.78 1230.28L956.62 1239.89L957.46 1268.24L958.29 1312.6L959.13 1368.67L959.97 1431L960.81 1494.12L961.64 1551.13L962.48 1596.43L963.32 1625.54L964.16 1635.59L964.99 1625.6L965.83 1596.56L966.67 1551.3L967.51 1494.25L968.34 1431L969.18 1368.23L970.02 1311.58L970.86 1266.61L971.69 1237.71L972.53 1227.73L973.37 1237.64L974.21 1266.49L975.04 1311.45L975.88 1368.14L976.72 1431L977.56 1494.31L978.4 1551.42L979.23 1596.75L980.07 1625.85L980.91 1635.88L981.75 1625.84L982.58 1596.72L983.42 1551.37L984.26 1494.26L985.1 1431L985.94 1368.27L986.77 1311.76L987.61 1267.01L988.45 1238.36L989.29 1228.58L990.12 1238.62L990.96 1267.46L991.8 1312.27L992.64 1368.62L993.48 1431L994.31 1493.81L995.15 1550.38L995.99 1595.2L996.83 1623.9L997.67 1633.7L998.5 1623.66L999.34 1594.79L1000.18 1549.92L1001.02 1493.48L1001.86 1431L1002.69 1369.24L1003.53 1313.63L1004.37 1269.58L1005.21 1241.39L1006.05 1231.79L1006.89 1241.69L1007.72 1270.09L1008.56 1314.18L1009.4 1369.63L1010.24 1431L1011.08 1492.96L1011.92 1548.76L1012.75 1592.97L1013.59 1621.26L1014.43 1630.91L1015.27 1620.98L1016.11 1592.48L1016.95 1548.23L1017.78 1492.59L1018.62 1431L1019.46 1370.19L1020.3 1315.42L1021.14 1272.04L1021.98 1244.28L1022.81 1234.82L1023.65 1244.56L1024.49 1272.53L1025.33 1315.96L1026.17 1370.57L1027.01 1431L1027.85 1491.99L1028.68 1546.92L1029.52 1590.43L1030.36 1618.27L1031.2 1627.75L1032.04 1617.97L1032.88 1589.92L1033.72 1546.37L1034.56 1491.61L1035.39 1431L1036.23 1371.14L1037.07 1317.22L1037.91 1274.51L1038.75 1247.17L1039.59 1237.84L1040.43 1247.42L1041.27 1274.95L1042.1 1317.7L1042.94 1371.47L1043.78 1431L1044.62 1491.04L1045.46 1545.11L1046.3 1587.95L1047.14 1615.37L1047.98 1624.73L1048.82 1615.11L1049.65 1587.51L1050.49 1544.63L1051.33 1490.7L1052.17 1431L1053.01 1371.93L1053.85 1318.71L1054.69 1276.54L1055.53 1249.53L1056.37 1240.3L1057.21 1249.74L1058.05 1276.9L1058.88 1319.1L1059.72 1372.21L1060.56 1431L1061.4 1490.23L1062.24 1543.6L1063.08 1585.9L1063.92 1613L1064.76 1622.27L1065.6 1612.82L1066.44 1585.59L1067.28 1543.26L1068.12 1489.99L1068.96 1431L1069.8 1372.59L1070.63 1319.96L1071.47 1278.24L1072.31 1251.52L1073.15 1242.38L1073.99 1251.7L1074.83 1278.56L1075.67 1320.31L1076.51 1372.84L1077.35 1431L1078.19 1489.71L1079.03 1542.63L1079.87 1584.59L1080.71 1611.49L1081.55 1620.7L1082.39 1611.34L1083.23 1584.34L1084.07 1542.36L1084.91 1489.52L1085.75 1431L1086.59 1373.21L1087.43 1321.12L1088.26 1279.82L1089.1 1253.34L1089.94 1244.27L1090.78 1253.47L1091.62 1280.03L1092.46 1321.35L1093.3 1373.37L1094.14 1431L1094.98 1489.24L1095.82 1541.73L1096.66 1583.36L1097.5 1610.05L1098.34 1619.21L1099.18 1609.94L1100.02 1583.17L1100.86 1541.53L1101.7 1489.09L1102.54 1431L1103.38 1373.55L1104.22 1321.74L1105.06 1280.65L1105.9 1254.28L1106.74 1245.21L1107.58 1254.33L1108.42 1280.74L1109.26 1321.84L1110.1 1373.62L1110.94 1431L1111.78 1488.91L1112.62 1541.14L1113.46 1582.57L1114.3 1609.16L1115.14 1618.3L1115.98 1609.11L1116.82 1582.49L1117.66 1541.05L1118.5 1488.85L1119.34 1431L1120.18 1373.69L1121.02 1322L1121.86 1280.98L1122.71 1254.65L1123.55 1245.59L1124.39 1254.68L1125.23 1281.02L1126.07 1322.04L1126.91 1373.72L1127.75 1431L1128.59 1488.79L1129.43 1540.92L1130.27 1582.29L1131.11 1608.85L1131.95 1618L1132.79 1608.84L1133.63 1582.28L1134.47 1540.91L1135.31 1488.79L1136.15 1431L1136.99 1373.76L1137.83 1322.13L1138.67 1281.15L1139.51 1254.84L1140.36 1245.78L1141.2 1254.85L1142.04 1281.15L1142.88 1322.13L1143.72 1373.76L1144.56 1431L1145.4 1488.79L1146.24 1540.91L1147.08 1582.28L1147.92 1608.84L1148.76 1618L1149.6 1608.84L1150.44 1582.28L1151.29 1540.91L1152.13 1488.79L1152.97 1431L1153.81 1373.76L1154.65 1322.13L1155.49 1281.15L1156.33 1254.85L1157.17 1245.78L1158.01 1254.85L1158.85 1281.15L1159.69 1322.13L1160.54 1373.76L1161.38 1431L1162.22 1488.79L1163.06 1540.91L1163.9 1582.28L1164.74 1608.84L1165.58 1618L1166.42 1608.84L1167.26 1582.28L1168.1 1540.91L1168.95 1488.79L1169.79 1431L1170.63 1373.76L1171.47 1322.13L1172.31 1281.15L1173.15 1254.85L1173.99 1245.78L1174.83 1254.85L1175.68 1281.15L1176.52 1322.13L1177.36 1373.76L1178.2 1431L1179.04 1488.79L1179.88 1540.91L1180.72 1582.28L1181.57 1608.84L1182.41 1618L1183.25 1608.84L1184.09 1582.28L1184.93 1540.91L1185.77 1488.79L1186.61 1431L1187.46 1373.76L1188.3 1322.13L1189.14 1281.15L1189.98 1254.85L1190.82 1245.78L1191.66 1254.85L1192.5 1281.15L1193.35 1322.13L1194.19 1373.76L1195.03 1431L1195.87 1488.79L1196.71 1540.91L1197.55 1582.28L1198.4 1608.84L1199.24 1618L1200.08 1608.84L1200.92 1582.28L1201.76 1540.91L1202.6 1488.79L1203.45 1431L1204.29 1373.76L1205.13 1322.13L1205.97 1281.15L1206.57 1260.74" fill="none" stroke="#d95319" stroke-width="4.4" stroke-linejoin="bevel" clip-path="url(#cc)"/>
</g>
<g font-family="'Liberation Serif','DejaVu Serif',serif" font-weight="bold" fill="#1a1a1a">
<text transform="translate(1323.5 39.4) scale(1.39 1)" text-anchor="start" font-size="24" xml:space="preserve">&lt;Rotor speed  wm  (pu)&gt;</text>
<text transform="translate(130.6 521.3) scale(1.31 1)" text-anchor="middle" font-size="28.3">0</text>
<text transform="translate(286.7 521.3) scale(1.31 1)" text-anchor="middle" font-size="28.3">1</text>
<text transform="translate(443.4 521.3) scale(1.31 1)" text-anchor="middle" font-size="28.3">2</text>
<text transform="translate(600.7 521.3) scale(1.31 1)" text-anchor="middle" font-size="28.3">3</text>
<text transform="translate(756.4 521.3) scale(1.31 1)" text-anchor="middle" font-size="28.3">4</text>
<text transform="translate(914.2 521.3) scale(1.31 1)" text-anchor="middle" font-size="28.3">5</text>
<text transform="translate(1070.4 521.3) scale(1.31 1)" text-anchor="middle" font-size="28.3">6</text>
<text transform="translate(1227.3 521.3) scale(1.31 1)" text-anchor="middle" font-size="28.3">7</text>
<text transform="translate(1383.6 521.3) scale(1.31 1)" text-anchor="middle" font-size="28.3">8</text>
<text transform="translate(1540.2 521.3) scale(1.31 1)" text-anchor="middle" font-size="28.3">9</text>
<text transform="translate(1696.6 521.3) scale(1.31 1)" text-anchor="middle" font-size="28.3">10</text>
<text transform="translate(119.2 62) scale(1.31 1)" text-anchor="end" font-size="28.3">1</text>
<text transform="translate(119.2 135.2) scale(1.31 1)" text-anchor="end" font-size="28.3">0.98</text>
<text transform="translate(119.2 208.8) scale(1.31 1)" text-anchor="end" font-size="28.3">0.96</text>
<text transform="translate(119.2 282.3) scale(1.31 1)" text-anchor="end" font-size="28.3">0.94</text>
<text transform="translate(119.2 355.9) scale(1.31 1)" text-anchor="end" font-size="28.3">0.92</text>
<text transform="translate(119.2 429.2) scale(1.31 1)" text-anchor="end" font-size="28.3">0.9</text>
<text transform="translate(913.5 556.2) scale(1.4 1)" text-anchor="middle" font-size="28.9">Time (seconds)</text>
<text transform="translate(39.3 245) scale(1.283 1) rotate(-90)" text-anchor="middle" font-size="29.6">speed p.u.</text>
<text transform="translate(102.3 1118) scale(1.32 1)" text-anchor="middle" font-size="27.5">0</text>
<text transform="translate(258.6 1118) scale(1.32 1)" text-anchor="middle" font-size="27.5">1</text>
<text transform="translate(416.4 1118) scale(1.32 1)" text-anchor="middle" font-size="27.5">2</text>
<text transform="translate(573.9 1118) scale(1.32 1)" text-anchor="middle" font-size="27.5">3</text>
<text transform="translate(731.8 1118) scale(1.32 1)" text-anchor="middle" font-size="27.5">4</text>
<text transform="translate(889.65 1118) scale(1.32 1)" text-anchor="middle" font-size="27.5">5</text>
<text transform="translate(1046 1118) scale(1.32 1)" text-anchor="middle" font-size="27.5">6</text>
<text transform="translate(1203.7 1118) scale(1.32 1)" text-anchor="middle" font-size="27.5">7</text>
<text transform="translate(1361.4 1118) scale(1.32 1)" text-anchor="middle" font-size="27.5">8</text>
<text transform="translate(1519.3 1118) scale(1.32 1)" text-anchor="middle" font-size="27.5">9</text>
<text transform="translate(1675.8 1118) scale(1.32 1)" text-anchor="middle" font-size="27.5">10</text>
<text transform="translate(90.2 625.5) scale(1.32 1)" text-anchor="end" font-size="27.5">12</text>
<text transform="translate(90.2 681.5) scale(1.32 1)" text-anchor="end" font-size="27.5">10</text>
<text transform="translate(90.2 737.5) scale(1.32 1)" text-anchor="end" font-size="27.5">8</text>
<text transform="translate(90.2 793.9) scale(1.32 1)" text-anchor="end" font-size="27.5">6</text>
<text transform="translate(90.2 849.8) scale(1.32 1)" text-anchor="end" font-size="27.5">4</text>
<text transform="translate(90.2 905.8) scale(1.32 1)" text-anchor="end" font-size="27.5">2</text>
<text transform="translate(90.2 962) scale(1.32 1)" text-anchor="end" font-size="27.5">0</text>
<text transform="translate(90.2 1019) scale(1.32 1)" text-anchor="end" font-size="27.5">-2</text>
<text transform="translate(90.2 1075.2) scale(1.32 1)" text-anchor="end" font-size="27.5">-4</text>
<text transform="translate(889 1153) scale(1.4 1)" text-anchor="middle" font-size="28.9">Time (seconds)</text>
<text transform="translate(39.3 832.6) scale(1.241 1) rotate(-90)" text-anchor="middle" font-size="30.6">Volts (p.u.)</text>
<text transform="translate(124.6 1719.8) scale(1.32 1)" text-anchor="middle" font-size="28">0</text>
<text transform="translate(354.1 1719.8) scale(1.32 1)" text-anchor="middle" font-size="28">0.2</text>
<text transform="translate(583.8 1719.8) scale(1.32 1)" text-anchor="middle" font-size="28">0.4</text>
<text transform="translate(814.9 1719.8) scale(1.32 1)" text-anchor="middle" font-size="28">0.6</text>
<text transform="translate(1045 1719.8) scale(1.32 1)" text-anchor="middle" font-size="28">0.8</text>
<text transform="translate(1275.1 1719.8) scale(1.32 1)" text-anchor="middle" font-size="28">1</text>
<text transform="translate(1505.9 1719.8) scale(1.32 1)" text-anchor="middle" font-size="28">1.2</text>
<text transform="translate(112.8 1252.4) scale(1.32 1)" text-anchor="end" font-size="28">1</text>
<text transform="translate(112.8 1346.7) scale(1.32 1)" text-anchor="end" font-size="28">0.5</text>
<text transform="translate(112.8 1440.8) scale(1.32 1)" text-anchor="end" font-size="28">0</text>
<text transform="translate(112.8 1536) scale(1.32 1)" text-anchor="end" font-size="28">-0.5</text>
<text transform="translate(112.8 1630.3) scale(1.32 1)" text-anchor="end" font-size="28">-1</text>
<text transform="translate(905 1755.5) scale(1.4 1)" text-anchor="middle" font-size="28.9">Time (seconds)</text>
<text transform="translate(39.1 1432.3) scale(1.255 1) rotate(-90)" text-anchor="middle" font-size="30.7">Volts (p.u.)</text>
</g>
<g font-family="'DejaVu Sans','Liberation Sans',sans-serif" font-weight="bold" font-size="24.4" fill="#0c0c0c"><text transform="translate(19 483.6) scale(1.24 1)">a</text><text transform="translate(38.4 485.4) scale(1.225 1.23)">)</text></g>
<g font-family="'DejaVu Sans','Liberation Sans',sans-serif" font-weight="bold" font-size="24.4" fill="#0c0c0c"><text transform="translate(10.4 1076.5) scale(1.31 1.149)">b</text><text transform="translate(32.2 1078.3) scale(1.225 1.23)">)</text></g>
<g font-family="'DejaVu Sans','Liberation Sans',sans-serif" font-weight="bold" font-size="24.4" fill="#0c0c0c"><text transform="translate(8.7 1678.9) scale(1.33 1)">c</text><text transform="translate(25.8 1680.7) scale(1.225 1.23)">)</text></g>
<text transform="translate(1.3 563.3) scale(1.32 1)" font-family="'Liberation Sans','DejaVu Sans',sans-serif" font-size="12.4" fill="#1a1a1a" stroke="#1a1a1a" stroke-width="0.2">Offset=0</text>
<text transform="translate(1.3 1160) scale(1.32 1)" font-family="'Liberation Sans','DejaVu Sans',sans-serif" font-size="12.4" fill="#1a1a1a" stroke="#1a1a1a" stroke-width="0.2">Offset=0</text>
<text transform="translate(1.3 1760.5) scale(1.32 1)" font-family="'Liberation Sans','DejaVu Sans',sans-serif" font-size="12.4" fill="#1a1a1a" stroke="#1a1a1a" stroke-width="0.2">Offset=0</text>
</g>
</svg></body></html>
